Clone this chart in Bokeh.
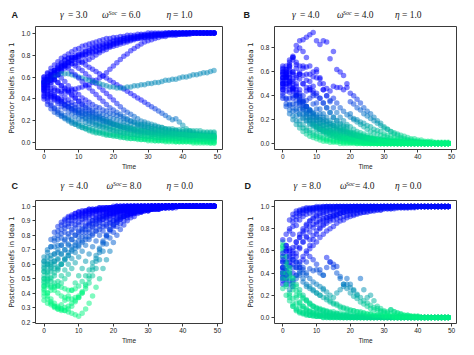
from bokeh.plotting import figure
from bokeh.models import ColumnDataSource, Range1d, FixedTicker, PrintfTickFormatter, Div
from bokeh.layouts import row, column
from bokeh.transform import linear_cmap
from bokeh.embed import file_html
from bokeh.resources import INLINE

# ---------------- data ----------------
TIME_TICKS = [0, 10, 20, 30, 40, 50]
PANEL_LETTERS = ["A", "B", "C", "D"]
GAMMA = ["3.0", "4.0", "4.0", "8.0"]
OMEGA_SOC = ["6.0", "4.0", "8.0", "4.0"]
ETA = ["1.0", "1.0", "0.0", "0.0"]
Y_TICKS_A = [0.0, 0.2, 0.4, 0.6, 0.8, 1.0]
Y_TICKS_B = [0.0, 0.2, 0.4, 0.6, 0.8]
Y_TICKS_C = [0.2, 0.3, 0.4, 0.5, 0.6, 0.7, 0.8, 0.9, 1.0]
Y_TICKS_D = [0.0, 0.2, 0.4, 0.6, 0.8, 1.0]

# posterior beliefs (x100), one list per agent, time steps 0..49
A_PATHS = [
    [60,64,68,71,74,77,79,81,83,85, 86,88,89,90,91,92,93,94,95,95, 96,96,97,97,98,98,98,99,99,99] + [100]*20,
    [57,60,63,66,69,72,75,77,78,80, 81,83,84,86,87,88,89,90,91,92, 93,94,94,95,96,96,97,97,98,98, 98,99,99,99,99] + [100]*15,
    [55,58,61,63,66,69,71,73,75,76, 78,79,80,82,83,84,85,87,88,89, 90,91,92,93,93,94,95,95,96,96, 97,97,98,98,98,99,99,99,99,99] + [100]*10,
    [50,53,57,61,65,68,71,73,75,78, 80,81,83,84,86,87,88,89,90,91, 92,93,94,95,95,96,96,97,97,98, 98,98,99,99,99,99] + [100]*14,
    [48,52,55,58,62,66,70,74,77,78, 79,80,80,81,82,83,84,86,87,88, 90,91,92,93,94,95,95,96,97,97, 98,98,98,99,99,99,99] + [100]*13,
    [53,55,57,60,62,65,68,70,72,72, 73,74,75,76,78,80,82,84,85,87, 88,89,90,91,92,93,94,95,95,96, 96,97,97,98,98,98,99,99,99,99, 99,99] + [100]*8,
    [50,50,49,48,48,47,47,48,48,49, 50,51,52,53,55,57,59,61,64,67, 70,73,76,79,81,84,86,88,90,92, 93,94,95,96,97,97,98,98,98,99, 99,99,99] + [100]*7,
    [55,58,62,66,70,73,76,77,78,77, 75,73,71,69,67,65,63,61,59,57, 55,53,51,49,47,45,43,41,39,37, 35,33,31,29,27,25,23,21,22,19, 16,13,11,9,8,7,6,5,5,4],
    [52,56,60,64,67,70,72,73,72,70, 68,66,63,60,57,54,51,48,45,42, 39,36,33,30,28,26,24,22,20,19, 18,17,16,15,14,13,12,11,11,10, 10,9,9,8,8,8,7,7,7,7],
    [55,57,59,61,62,63,63,63,62,61, 60,59,58,57,56,55,54,53,52,51, 51,50,50,50,51,51,52,52,53,53, 54,54,55,55,56,57,57,58,58,59, 60,60,61,62,62,63,64,64,65,66],
    [40,35,31,28,26,24,22,20,18,17, 16,14,13,12,11,10,9,9,8,7, 7,6,6,5,5,4,4,4,3,3, 3,3,2,2,2,2,2,2,1,1, 1,1,1,1,1,1,1,1,0,0],
    [45,40,36,32,30,27,25,23,21,19, 18,16,15,14,13,12,11,10,9,9, 8,8,7,7,6,6,5,5,5,4, 4,4,4,3,3,3,3,3,2,2, 2,2,2,2,2,2,1,1,1,1],
    [48,45,42,39,36,33,31,28,26,24, 22,21,19,18,17,16,15,14,13,12, 11,10,10,9,9,8,8,7,7,7, 6,6,6,5,5,5,5,4,4,4, 4,4,3,3,3,3,3,3,3,3],
    [52,50,47,44,41,38,35,33,31,29, 27,25,23,22,21,19,18,17,16,15, 14,13,13,12,11,11,10,10,9,9, 9,8,8,8,7,7,7,7,6,6, 6,6,6,5,5,5,5,5,5,5],
    [56,55,53,50,47,45,42,39,37,35, 33,31,29,27,26,24,23,22,21,19, 18,17,16,16,15,14,13,13,12,12, 11,11,10,10,10,9,9,9,9,8, 8,8,8,8,7,7,7,7,7,7],
    [58,60,60,58,55,52,49,46,43,41, 38,36,34,32,30,29,27,26,25,23, 22,21,20,19,18,17,16,16,15,14, 14,13,13,12,12,12,11,11,11,10, 10,10,10,10,9,9,9,9,9,9],
    [60,63,65,64,62,59,56,52,49,46, 44,41,39,37,35,33,32,30,29,27, 26,25,24,22,21,20,19,18,17,17, 16,15,15,14,14,13,13,13,12,12, 12,11,11,11,11,11,10,10,10,10],
    [43,38,34,31,28,25,23,21,19,17, 15,14,13,11,10,9,9,8,7,7, 6,6,5,5,4,4,4,3,3,3, 2,2,2,2,2,1,1,1,1,1, 1,1,1,0,0,0,0,0,0,0],
    [50,47,45,43,40,38,35,32,30,28, 26,24,22,20,19,17,16,15,14,13, 12,11,10,9,9,8,8,7,7,6, 6,6,5,5,5,4,4,4,4,4, 3,3,3,3,3,3,3,2,2,2],
    [47,44,43,42,41,40,38,36,34,32, 30,29,27,26,24,23,22,20,19,18, 17,16,15,14,13,13,12,11,11,10, 10,9,9,9,8,8,8,7,7,7, 7,6,6,6,6,6,6,5,5,5],
    [55,57,58,57,55,52,50,47,44,41, 38,35,32,30,28,26,24,22,20,19, 17,16,15,14,13,12,11,10,10,9, 9,8,8,7,7,7,6,6,6,5, 5,5,5,5,4,4,4,4,4,4],
    [42,42,41,40,38,36,34,33,31,30, 28,27,26,24,23,22,21,20,19,18, 17,16,15,14,14,13,12,12,11,11, 10,10,10,9,9,9,8,8,8,8, 8,7,7,7,7,7,7,7,6,6],
    [53,58,62,66,68,70,70,68,65,62, 59,56,53,50,47,44,41,38,35,32, 30,28,26,24,22,20,19,17,16,15, 14,13,12,11,11,10,10,9,9,8, 8,8,7,7,7,6,6,6,6,6],
]
A_SHADES = [None, None, None, None, None, None, None, None, None, 0.45,
            None, None, None, None, None, None, None, None, None, None, None, None, None]

B_PATHS = [
    [40,33,28,23,19,16,13,11,9,7, 6,5,4,3,3,2,2,2,1,1, 1,1] + [0]*28,
    [45,38,32,27,23,19,16,13,11,9, 8,6,5,4,4,3,3,2,2,2, 1,1,1,1] + [0]*26,
    [50,44,38,33,29,25,22,19,16,14, 12,10,9,8,7,6,5,4,4,3, 3,2,2,2,1,1,1,1] + [0]*22,
    [55,50,45,40,36,32,28,25,22,19, 17,15,13,11,10,9,8,7,6,5, 4,4,3,3,3,2,2,2,1,1, 1,1,1] + [0]*17,
    [60,56,51,47,43,39,35,31,28,25, 22,20,18,16,14,12,11,10,9,8, 7,6,5,5,4,4,3,3,2,2, 2,2,1,1,1,1] + [0]*14,
    [63,58,52,46,40,35,30,26,22,19, 16,14,12,10,9,8,7,6,5,4, 4,3,3,2,2,2,1,1,1] + [0]*21,
    [52,55,52,46,40,34,29,24,20,17, 14,12,10,8,7,6,5,4,3,3, 2,2,2,1,1,1] + [0]*24,
    [48,53,58,54,48,42,36,31,27,23, 20,17,15,13,11,9,8,7,6,5, 4,4,3,3,2,2,2,1,1,1] + [0]*20,
    [42,37,33,30,27,24,21,19,17,15, 13,12,11,10,9,8,7,6,5,5, 4,4,3,3,3,2,2,2,1,1, 1,1] + [0]*18,
    [38,31,25,20,16,13,10,8,6,5, 4,3,2,2,1,1,1] + [0]*33,
    [65,60,55,50,45,40,35,31,28,25, 22,20,18,16,14,13,12,11,10,9, 8,7,6,6,5,5,4,4,3,3, 3,2,2,2,2,1,1,1,1,1] + [0]*10,
    [47,50,48,44,40,36,32,28,25,22, 19,17,15,13,11,10,9,8,7,6, 5,5,4,4,3,3,3,2,2,2, 1,1,1,1] + [0]*16,
    [53,48,43,38,33,29,25,22,19,16, 14,12,10,9,8,7,6,5,4,4, 3,3,2,2,2,1,1,1] + [0]*22,
    [58,55,50,45,41,37,34,31,28,26, 24,22,20,18,16,15,14,12,11,10, 9,8,7,6,6,5,5,4,4,3, 3,3,2,2,2,2,1,1,1,1, 1] + [0]*9,
    [50,62,68,72,82,86,87,89,91,93, 86,83,86,85,71,77,62,60,57,50, 42,40,37,34,30,27,25,22,19,17, 14,12,10,8,7,5,4,3,3,2, 2,1,1,1,1] + [0]*5,
    [45,55,65,73,78,80,77,72,65,60, 55,50,45,40,36,48,47,47,45,47, 22,21,20,18,17,15,14,12,11,10, 8,7,6,5,4,4,3,3,2,2, 1,1,1,1] + [0]*6,
    [60,65,70,72,68,65,63,64,58,56, 62,54,50,46,44,38,34,30,27,24, 35,33,30,28,25,23,21,19,17,15, 13,12,10,9,8,7,6,5,4,4, 3,3,2,2,2,1,1,1,1,1],
    [55,62,66,70,63,58,65,58,52,48, 60,55,45,40,35,30,26,22,19,16, 14,12,10,9,8,7,6,5,4,4, 3,3,2,2,2,1,1,1,1] + [0]*11,
    [58,60,55,52,50,45,40,36,45,42, 40,38,34,30,26,22,19,16,14,12, 10,9,8,7,6,5,4,4,3,3, 2,2,2,1,1,1] + [0]*14,
    [62,58,64,60,66,58,50,44,38,33, 29,25,22,19,17,15,13,11,10,9, 8,7,6,5,4,4,3,3,2,2, 2,1,1,1,1] + [0]*15,
    [55,58,62,60,57,54,50,47,45,44, 42,38,34,30,26,22,19,17,15,14, 25,20,18,16,14,12,10,9,8,7, 6,5,4,3,3,2,2,2,1,1, 1,1] + [0]*8,
    [50,56,60,58,55,60,57,53,47,40, 34,29,25,22,19,17,15,13,12,10, 9,8,7,6,5,4,4,3,3,2, 2,2,1,1,1] + [0]*15,
]
B_SHADES = [None] * 22

C_PATHS = [
    [62,70,77,82,86,89,91,93,94,95, 96,97,97,98,98,98,99,99,99,99] + [100]*30,
    [58,65,72,78,83,87,90,92,93,95, 96,96,97,98,98,98,99,99,99,99, 99] + [100]*29,
    [55,60,66,72,77,81,85,88,90,92, 93,94,95,96,97,97,98,98,98,99, 99,99,99] + [100]*27,
    [50,55,61,67,73,78,82,86,88,90, 92,93,94,95,96,97,97,98,98,98, 99,99,99,99] + [100]*26,
    [45,50,55,62,68,73,77,81,84,87, 89,91,92,94,95,96,96,97,97,98, 98,98,99,99,99,99] + [100]*24,
    [60,62,64,67,70,73,76,79,82,85, 87,89,91,92,93,94,95,96,96,97, 97,98,98,98,99,99,99,99] + [100]*22,
    [52,54,57,60,63,67,70,74,77,80, 83,85,87,89,90,92,93,94,95,95, 96,97,97,98,98,98,99,99,99,99] + [100]*20,
    [42,45,48,52,56,60,64,68,72,75, 79,82,84,87,88,90,91,93,94,95, 95,96,97,97,98,98,98,99,99,99, 99] + [100]*19,
    [38,40,42,45,48,52,56,60,64,68, 72,76,79,82,85,87,89,91,92,93, 94,95,96,97,97,98,98,98,99,99, 99,99] + [100]*18,
    [48,46,44,44,45,47,50,53,57,61, 65,69,73,77,80,83,86,88,90,91, 93,94,95,96,96,97,97,98,98,98, 99,99,99,99] + [100]*16,
    [40,36,33,31,30,32,35,38,42,47, 52,57,62,67,72,76,80,83,86,88, 90,92,93,94,95,96,96,97,97,98, 98,98,99,99,99,99] + [100]*14,
    [45,40,36,33,31,29,28,27,26,25, 24,26,29,33,38,44,50,57,63,69, 75,80,84,87,90,92,93,95,96,97, 97,98,98,98,99,99,99,99] + [100]*12,
    [35,33,32,30,29,29,30,31,33,35, 37,40,45,50,56,62,68,74,79,83, 86,89,91,93,94,95,96,97,97,98, 98,99,99,99,99] + [100]*15,
    [55,52,50,47,45,44,43,42,42,43, 45,48,52,56,61,66,71,76,80,84, 87,89,91,93,94,95,96,97,97,98, 98,98,99,99,99,99] + [100]*14,
    [65,68,72,76,80,84,87,90,92,93, 94,95,96,97,97,98,98,98,99,99, 99] + [100]*29,
    [50,48,45,42,40,38,37,36,36,37, 38,40,43,47,52,57,63,69,74,78, 82,86,88,90,92,94,95,96,96,97, 97,98,98,98,99,99,99,99] + [100]*12,
    [43,38,34,31,29,28,28,29,31,34, 37,41,46,52,58,64,70,75,80,84, 87,90,92,93,94,95,96,97,97,98, 98,99,99,99,99] + [100]*15,
    [57,58,60,62,64,67,70,73,77,80, 82,84,86,88,90,91,92,93,94,95, 96,96,97,97,98,98,98,99,99,99, 99] + [100]*19,
    [47,49,51,54,57,60,63,66,69,71, 73,75,77,79,81,83,84,86,87,89, 90,91,92,93,94,95,95,96,96,97, 97,98,98,98,99,99,99,99,99] + [100]*11,
    [62,60,58,57,58,60,63,66,70,73, 76,79,82,84,86,88,90,91,93,94, 95,96,96,97,97,98,98,98,99,99, 99,99] + [100]*18,
]
C_SHADES = [None] * 20

D_PATHS = [
    [40,75,88,93,96,97,98,99,99,99] + [100]*40,
    [35,60,80,90,94,96,97,98,98,99, 99,99] + [100]*38,
    [45,55,70,82,88,92,94,96,97,97, 98,98,99,99,99,99] + [100]*34,
    [30,45,62,75,83,88,91,93,94,95, 96,97,97,98,98,98,99,99,99,99] + [100]*30,
    [38,42,50,60,68,75,80,84,87,89, 91,92,93,94,95,96,96,97,97,98, 98,98,99,99,99,99] + [100]*24,
    [42,50,57,63,68,72,76,79,82,84, 86,88,89,90,91,92,93,94,95,95, 96,96,97,97,98,98,98,98,99,99, 99,99,99] + [100]*17,
    [36,33,40,48,55,62,68,73,77,81, 84,86,88,90,91,92,93,94,95,96, 96,97,97,98,98,98,99,99,99,99] + [100]*20,
    [55,50,47,52,58,63,68,72,70,74, 78,81,83,85,87,88,89,90,91,92, 93,93,94,95,95,96,96,97,97,97, 98,98,98,98,99,99,99,99,99,99] + [100]*10,
    [33,38,46,55,64,72,78,83,87,90, 92,94,95,96,97,97,98,98,99,99, 99] + [100]*29,
    [45,65,78,86,91,94,96,97,98,98, 99,99,99] + [100]*37,
    [50,42,38,40,45,50,55,60,62,65, 68,72,75,78,80,82,85,87,88,90, 91,92,93,94,95,95,96,96,97,97, 98,98,98,99,99,99,99,99] + [100]*12,
    [40,35,30,33,38,45,52,58,65,70, 75,80,84,87,89,91,92,94,95,96, 96,97,97,98,98,98,99,99,99,99] + [100]*20,
    [65,40,20,12,8,5,4,3,2,2, 1,1,1,1] + [0]*36,
    [60,35,18,10,6,4,3,2,2,1, 1,1] + [0]*38,
    [68,55,40,28,20,14,10,7,5,4, 3,2,2,1,1,1,1] + [0]*33,
    [62,45,35,25,18,13,10,8,6,5, 4,3,3,2,2,2,1,1,1,1] + [0]*30,
    [55,48,42,36,30,25,20,16,13,10, 8,7,6,5,4,3,3,2,2,2, 1,1,1,1,1] + [0]*25,
    [35,28,22,17,13,10,8,6,5,4, 3,2,2,2,1,1,1,1] + [0]*32,
    [58,62,55,45,50,48,43,40,44,42, 43,40,38,45,50,48,46,37,30,35, 30,25,20,35,25,18,20,15,10,8, 6,5,7,5,4,3,2,2,1,1, 1] + [0]*9,
    [45,30,25,32,38,42,35,30,28,25, 22,20,25,18,15,13,12,10,9,8, 7,6,5,5,4,3,3,2,2,2, 1,1,1,1] + [0]*16,
    [70,60,52,58,50,45,40,38,35,32, 30,28,26,23,20,18,22,25,28,30, 27,24,21,18,15,13,11,9,8,6, 5,4,7,5,4,3,2,2,1,1, 1] + [0]*9,
    [26,20,15,10,7,5,4,3,2,2, 1,1] + [0]*38,
    [64,50,38,30,24,20,17,15,12,10, 9,8,7,6,5,5,4,4,3,3, 3,2,2,2,2,1,1,1,1,1] + [0]*20,
    [50,38,33,28,35,40,45,50,55,52, 48,43,38,54,50,45,40,35,30,26, 22,19,17,14,12,10,8,7,6,5, 4,3,3,2,2,2,1,1,1] + [0]*11,
    [40,30,45,35,28,22,18,15,12,10, 8,7,6,5,4,3,3,2,2,2, 1,1,1] + [0]*27,
    [52,65,60,52,45,38,32,28,26,24, 22,20,18,16,14,12,11,9,8,7, 6,6,5,4,4,3,3,2,2,2, 1,1,1] + [0]*17,
]
D_SHADES = [0.95, 0.95, 0.95, 0.95, 0.95, 0.95, 0.95, 0.95, 0.95, 0.95, 0.95, 0.95,
            0.1, 0.1, 0.1, 0.1, 0.2, 0.1, None, None, None, 0.1, 0.1, None, 0.1, None]

# ---------------- style ----------------
# matplotlib "winter" colormap, green (low) -> blue (high)
WINTER_R = ["#%02x%02x%02x" % (0, round(245 * (1 - i / 63)), round(128 + 127 * i / 63)) for i in range(64)]

SANS = "Liberation Sans"
SERIF = "Liberation Serif"
INK = "#1a1a1a"


def span(left, baseline, text, size, family, italic=False, bold=False):
    top = baseline - 0.84 * size
    style = ("position:absolute;left:%.1fpx;top:%.1fpx;font-family:'%s';font-size:%.1fpx;"
             "line-height:1;white-space:nowrap;color:%s;font-style:%s;font-weight:%s"
             % (left, top, family, size, INK, "italic" if italic else "normal",
                "bold" if bold else "normal"))
    return '<span style="%s">%s</span>' % (style, text)


def panel_heading(i, frame_left, baseline, pos):
    lx, gx, e1x, ox, sx, e2x, hx, e3x = pos
    return "".join([
        span(frame_left + lx, baseline, PANEL_LETTERS[i], 9, SANS, bold=True),
        span(frame_left + gx, baseline, "γ", 9.5, SERIF, italic=True),
        span(frame_left + e1x, baseline, "= " + GAMMA[i], 9.5, SERIF),
        span(frame_left + ox, baseline, "ω", 9.5, SERIF, italic=True),
        span(frame_left + sx, baseline - 4, "Soc", 6, SERIF, italic=True),
        span(frame_left + e2x, baseline, "= " + OMEGA_SOC[i], 9.5, SERIF),
        span(frame_left + hx, baseline, "η", 9.5, SERIF, italic=True),
        span(frame_left + e3x, baseline, "= " + ETA[i], 9.5, SERIF),
    ])


def heading_row(height, parts):
    html = ('<div style="position:relative;width:466px;height:%dpx;overflow:visible">%s</div>'
            % (height, "".join(parts)))
    return Div(text=html, width=466, height=height, margin=0)


def make_panel(paths, shades, cmin, cmax, y_range, yticks, width, height, left, right, top, bottom):
    xs, ys, cs = [], [], []
    for path, sh in zip(paths, shades):
        for t, v in enumerate(path):
            xs.append(t)
            ys.append(v / 100)
            cs.append(v / 100 if sh is None else cmin + sh * (cmax - cmin))
    src = ColumnDataSource(dict(x=xs, y=ys, c=cs))

    p = figure(width=width, height=height, x_range=Range1d(-2.45, 51.45),
               y_range=Range1d(*y_range), output_backend="svg", toolbar_location=None,
               min_border_left=left, min_border_right=right,
               min_border_top=top, min_border_bottom=bottom,
               background_fill_color="white", border_fill_color="white")
    p.scatter("x", "y", source=src, marker="circle", size=5.5,
              fill_color=linear_cmap("c", WINTER_R, cmin, cmax),
              fill_alpha=0.5, line_color=None)

    p.xgrid.visible = False
    p.ygrid.visible = False
    p.outline_line_color = "#3a3a3a"
    p.outline_line_width = 1
    p.outline_line_alpha = 1

    for ax in (p.xaxis[0], p.yaxis[0]):
        ax.axis_line_color = None
        ax.major_tick_line_color = "#3a3a3a"
        ax.major_tick_out = 3
        ax.major_tick_in = 0
        ax.minor_tick_line_color = None
        ax.major_label_text_font = SANS
        ax.major_label_text_font_size = "6.5px"
        ax.major_label_text_color = "#222222"
        ax.axis_label_text_font_style = "normal"
        ax.axis_label_text_color = "#222222"

    p.xaxis.ticker = FixedTicker(ticks=TIME_TICKS)
    p.xaxis.major_label_standoff = 1
    p.xaxis.axis_label = "Time"
    p.xaxis.axis_label_text_font = SANS
    p.xaxis.axis_label_text_font_size = "6.5px"
    p.xaxis.axis_label_standoff = 1

    p.yaxis.ticker = FixedTicker(ticks=yticks)
    p.yaxis.formatter = PrintfTickFormatter(format="%.1f")
    p.yaxis.major_label_standoff = 2
    p.yaxis.axis_label = "Posterior beliefs in Idea 1"
    p.yaxis.axis_label_text_font = "DejaVu Sans"
    p.yaxis.axis_label_text_font_size = "7.2px"
    p.yaxis.axis_label_standoff = 2
    return p


pA = make_panel(A_PATHS, A_SHADES, 0.0, 0.4, (-0.06, 1.06), Y_TICKS_A, 243, 158, 35, 21, 2, 33)
pB = make_panel(B_PATHS, B_SHADES, 0.0, 0.45, (-0.05, 0.98), Y_TICKS_B, 223, 158, 26, 10, 2, 33)
pC = make_panel(C_PATHS, C_SHADES, 0.42, 0.95, (0.19, 1.04), Y_TICKS_C, 243, 151, 35, 21, 2, 26)
pD = make_panel(D_PATHS, D_SHADES, 0.0, 0.6, (-0.055, 1.055), Y_TICKS_D, 223, 151, 26, 10, 2, 26)

# heading rows (frame left edges: 35 for left column, 269 for right column)
head1 = heading_row(24, [
    panel_heading(0, 35, 19, (-23.5, 25, 33, 67, 73.5, 86, 131.5, 138)),
    panel_heading(1, 269, 18.5, (-25.5, 23, 31, 68, 74, 85, 126, 133)),
])
head2 = heading_row(16, [
    panel_heading(2, 35, 8, (-23.5, 25.5, 33.5, 71.5, 78, 87, 131.5, 138.5)),
    panel_heading(3, 269, 7.5, (-24.5, 24.5, 32.5, 71, 77, 86, 126, 133)),
])

layout = column(head1, row(pA, pB), head2, row(pC, pD))
open("out.html", "w").write(file_html(layout, INLINE))
